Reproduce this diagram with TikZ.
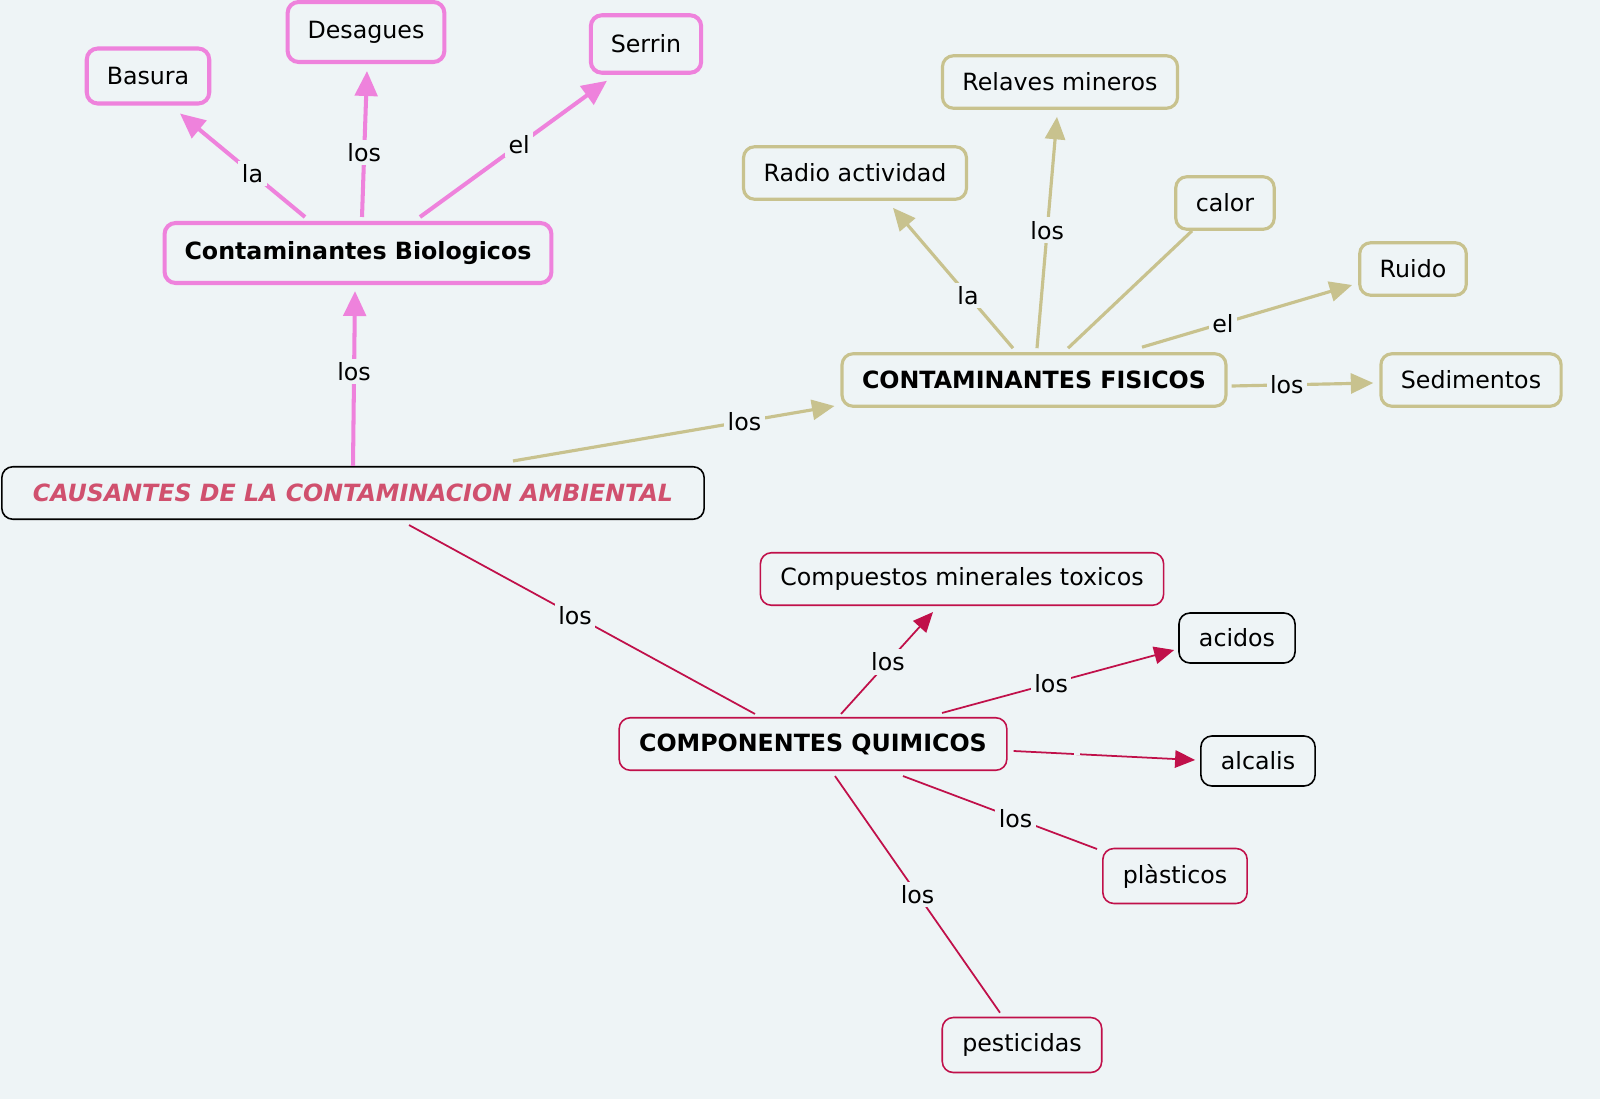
\documentclass[tikz,border=0pt]{standalone}
\usepackage{fontspec}
\setmainfont{DejaVu Sans}
\usepackage{xcolor}
\usetikzlibrary{calc,arrows.meta}
\definecolor{bg}{HTML}{EEF4F6}
\definecolor{bio}{HTML}{EE82DC}
\definecolor{fis}{HTML}{C8C28E}
\definecolor{qui}{HTML}{C0104A}
\definecolor{tit}{HTML}{D0506E}
\tikzset{
  box/.style={draw, rounded corners=0.22cm, fill=bg, inner xsep=0.4cm, minimum height=1.05cm, font=\fontsize{13.5}{16}\selectfont},
  bbox/.style={box, draw=bio, line width=2.3pt},
  fbox/.style={box, draw=fis, line width=1.8pt},
  qbox/.style={box, draw=qui, line width=0.9pt},
  kbox/.style={box, draw=black, line width=0.9pt},
  lbl/.style={fill=bg, text=black, inner sep=2pt, font=\fontsize{13.5}{16}\selectfont},
  barr/.style={bio, line width=2.3pt, -{Triangle[length=0.5cm,width=0.45cm]}},
  farr/.style={fis, line width=1.8pt, -{Triangle[length=0.45cm,width=0.4cm]}},
  qarr/.style={qui, line width=1pt, -{Triangle[length=0.4cm,width=0.35cm]}},
}
\begin{document}
\begin{tikzpicture}[x=0.02cm,y=-0.02cm]
  \useasboundingbox (0,0) rectangle (1600,1099);
  \fill[bg] (0,0) rectangle (1600,1099);
  \node[kbox, minimum width=14.05cm, font=\fontsize{13.5}{16}\selectfont\bfseries\itshape, text=tit] (cause) at (353,493) {CAUSANTES DE LA CONTAMINACION AMBIENTAL};
  \node[bbox, minimum height=1.2cm, font=\fontsize{13.5}{16}\selectfont\bfseries] (cbio) at (358,253) {Contaminantes Biologicos};
  \node[bbox, minimum height=1.1cm] (basura) at (148,76) {Basura};
  \node[bbox, minimum height=1.2cm] (desag) at (366,32) {Desagues};
  \node[bbox, minimum height=1.15cm] (serrin) at (646,44) {Serrin};
  \node[fbox, font=\fontsize{13.5}{16}\selectfont\bfseries] (cfis) at (1034,380) {CONTAMINANTES FISICOS};
  \node[fbox] (relaves) at (1060,82) {Relaves mineros};
  \node[fbox] (radio) at (855,173) {Radio actividad};
  \node[fbox] (calor) at (1225,203) {calor};
  \node[fbox] (ruido) at (1413,269) {Ruido};
  \node[fbox] (sedim) at (1471,380) {Sedimentos};
  \node[qbox, font=\fontsize{13.5}{16}\selectfont\bfseries] (cqui) at (813,744) {COMPONENTES QUIMICOS};
  \node[qbox] (compu) at (962,579) {Compuestos minerales toxicos};
  \node[kbox, minimum height=1cm] (acidos) at (1237,638) {acidos};
  \node[kbox, minimum height=1cm] (alcalis) at (1258,761) {alcalis};
  \node[qbox, minimum height=1.1cm] (plast) at (1175,876) {plàsticos};
  \node[qbox, minimum height=1.1cm] (pest) at (1022,1045) {pesticidas};

  \draw[barr] (cause.north) -- node[lbl,pos=0.54]{los} ($(cbio.south)+(-3,6)$);
  \draw[barr] ($(cbio.north)+(-53,-4)$) -- node[lbl,pos=0.42]{la} ($(basura.south)+(32,8)$);
  \draw[barr] ($(cbio.north)+(4,-4)$) -- node[lbl,pos=0.44]{los} ($(desag.south)+(1,7)$);
  \draw[barr] ($(cbio.north)+(62,-4)$) -- node[lbl,pos=0.53]{el} ($(serrin.south)+(-39,6)$);

  \draw[farr] ($(cause.north)+(160,-5)$) -- node[lbl,pos=0.72]{los} ($(cfis.west)+(-6,26)$);
  \draw[farr] ($(cfis.north)+(-21,-4)$) -- node[lbl,pos=0.375]{la} ($(radio.south)+(38,7)$);
  \draw[farr] ($(cfis.north)+(3,-4)$) -- node[lbl,pos=0.51]{los} ($(relaves.south)+(-3,7)$);
  \draw[fis, line width=1.8pt] ($(cfis.north)+(34,-4)$) -- ($(calor.south)+(-33,0)$);
  \draw[farr] ($(cfis.north)+(108,-5)$) -- node[lbl,pos=0.385]{el} ($(ruido.west)+(-6,16)$);
  \draw[farr] ($(cfis.east)+(4,6)$) -- node[lbl,pos=0.39]{los} ($(sedim.west)+(-6,3)$);

  \draw[qui, line width=1pt] ($(cause.south)+(56,5)$) -- node[lbl,pos=0.48]{los} ($(cqui.north)+(-58,-3)$);
  \draw[qarr] ($(cqui.north)+(28,-3)$) -- node[lbl,pos=0.51]{los} ($(compu.south)+(-29,6)$);
  \draw[qarr] ($(cqui.north)+(129,-4)$) -- node[lbl,pos=0.47]{los} ($(acidos.west)+(-4,12)$);
  \draw[qarr] ($(cqui.east)+(6,7)$) -- node[lbl,pos=0.35,inner sep=0pt,minimum width=0.12cm]{} ($(alcalis.west)+(-5,-1)$);
  \draw[qui, line width=1pt] ($(cqui.south)+(90,5)$) -- node[lbl,pos=0.58]{los} ($(plast.west)+(-5,-27)$);
  \draw[qui, line width=1pt] ($(cqui.south)+(22,5)$) -- node[lbl,pos=0.5]{los} ($(pest.north)+(-22,-4)$);
\end{tikzpicture}
\end{document}
